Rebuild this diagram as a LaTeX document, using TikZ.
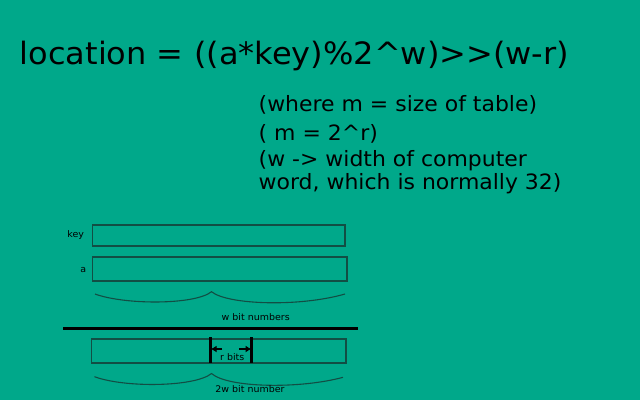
\documentclass[tikz,border=0pt]{standalone}
\usepackage{fontspec}
\setmainfont[Ligatures=NoCommon,FakeStretch=1.04]{DejaVu Sans}
\usetikzlibrary{arrows.meta}
\definecolor{bg}{RGB}{0,168,138}
\definecolor{edge}{RGB}{18,78,68}
\tikzset{
  title/.style={anchor=base west, inner sep=0pt, font=\fontsize{30.8}{34}\selectfont},
  note/.style={anchor=base west, inner sep=0pt, font=\fontsize{21.1}{24}\selectfont},
  small/.style={inner sep=0pt, font=\fontsize{9.1}{10}\selectfont},
  bitbox/.style={draw=edge, line width=1.2pt},
  brace/.style={draw=edge, line width=1.1pt},
  bar/.style={draw=black, line width=3pt},
  rarrow/.style={draw=black, line width=2pt, -{Latex[length=6pt,width=7pt]}}
}
\begin{document}
\begin{tikzpicture}[x=1pt,y=-1pt]
\fill[bg] (0,0) rectangle (640,400);
\useasboundingbox (0,0) rectangle (640,400);
\node[title] (t) at (19.5,64.3) {location = ((a*key)\%2\^{}w){>}{>}(w-r)};
\node[note] (n1) at (258.5,111) {(where m = size of table)};
\node[note] (n2) at (258.5,140) {( m = 2\^{}r)};
\node[note] (n3) at (258.5,166.7) {(w -{>} width of computer};
\node[note] (n4) at (258.5,189.5) {word, which is normally 32)};
% boxes
\draw[bitbox] (92.7,225) rectangle (345,246);
\node[small] (lkey) at (75.7,235) {key};
\draw[bitbox] (92.7,257) rectangle (347,281);
\node[small] (la) at (83.3,270) {a};
% top brace
\draw[brace] (95,294) .. controls (125,305) and (195,305) .. (211.5,291.7)
  .. controls (228,305) and (300,307) .. (345,294);
\node[small] (wb) at (255.7,317.5) {w bit numbers};
% thick separator
\draw[black, line width=2.7pt] (63.3,328.5) -- (358.3,328.5);
% product box
\draw[bitbox] (91.7,339) rectangle (346,363);
\draw[bar] (210.7,337) -- (210.7,363);
\draw[bar] (251.5,337) -- (251.5,363);
\coordinate (la1) at (222,349);
\coordinate (la2) at (210.7,349);
\coordinate (ra1) at (239,349);
\coordinate (ra2) at (251.5,349);
\draw[rarrow] (la1) -- (la2);
\draw[rarrow] (ra1) -- (ra2);
\node[small] (rb) at (232.3,357) {r bits};
% bottom brace
\draw[brace] (94.5,376.7) .. controls (125,388) and (195,387) .. (211.5,373.5)
  .. controls (228,388) and (300,389) .. (343,377.3);
\node[small] (tw) at (250,389.5) {2w bit number};
\end{tikzpicture}
\end{document}
